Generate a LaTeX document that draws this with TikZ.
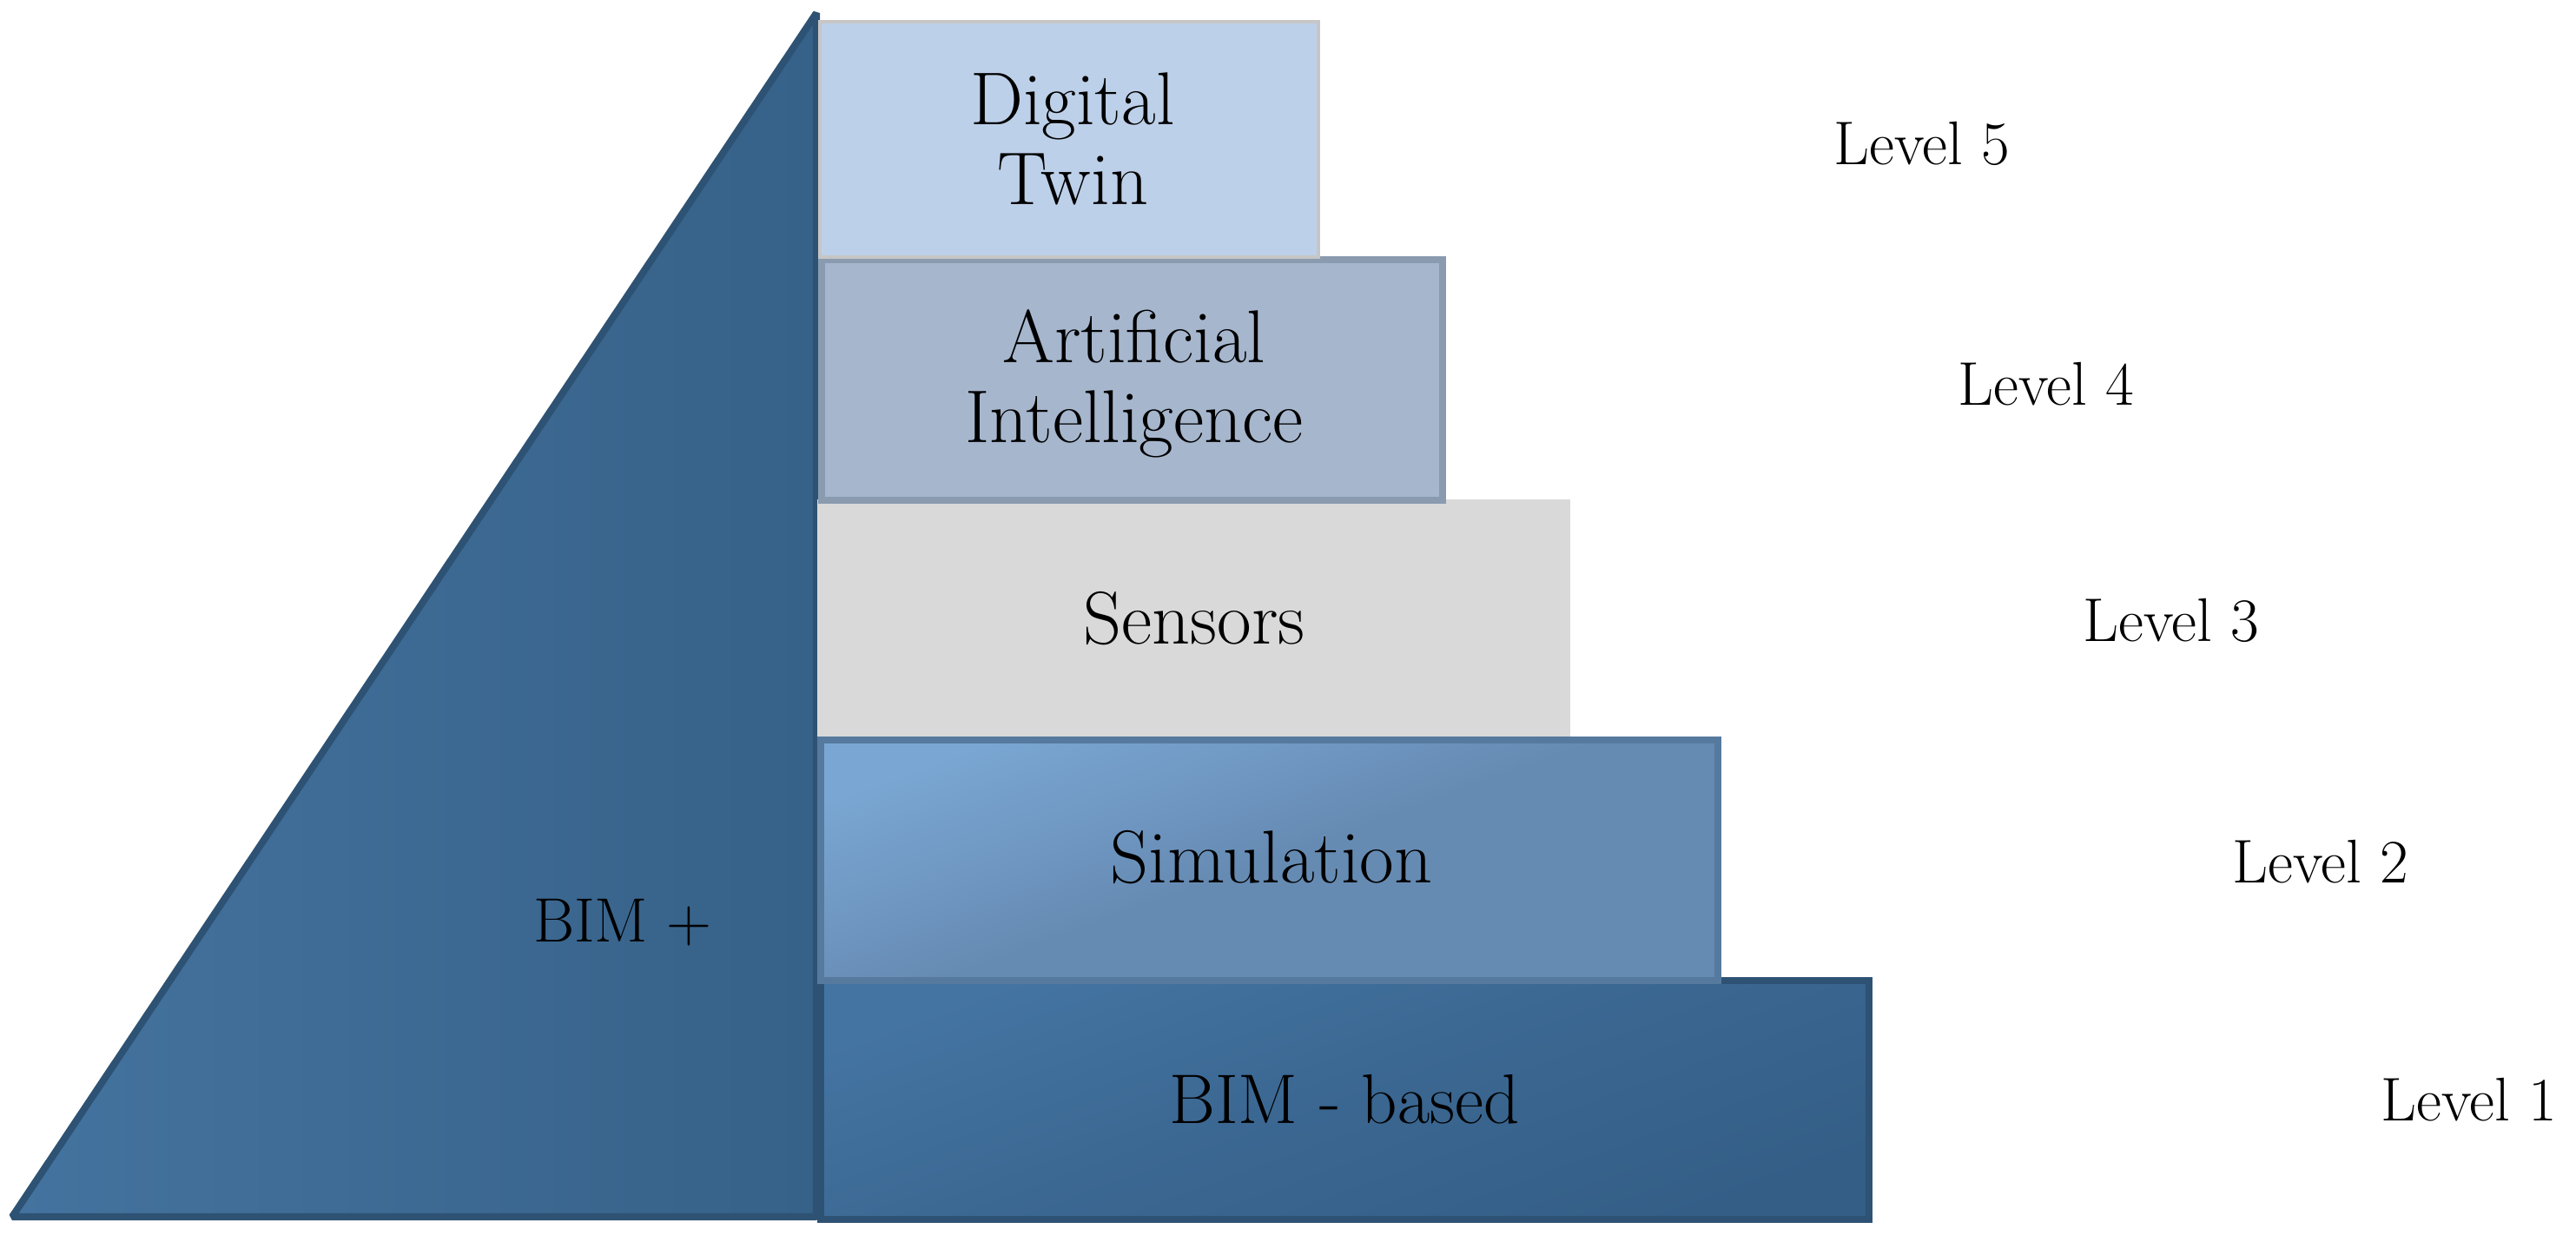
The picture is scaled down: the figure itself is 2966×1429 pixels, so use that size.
\documentclass[tikz,border=0pt]{standalone}
\usetikzlibrary{shadings}
\definecolor{triL}{HTML}{44739F}
\definecolor{triR}{HTML}{366188}
\definecolor{darkedge}{HTML}{2E5273}
\definecolor{bimA}{HTML}{4474A2}
\definecolor{bimB}{HTML}{345E86}
\definecolor{simA}{HTML}{7AA6D3}
\definecolor{simB}{HTML}{668BB3}
\definecolor{simedge}{HTML}{557A9E}
\definecolor{sensfill}{HTML}{D9D9D9}
\definecolor{aifill}{HTML}{A6B6CD}
\definecolor{aiedge}{HTML}{8A9BB0}
\definecolor{dtfill}{HTML}{BDD0E9}
\definecolor{dtedge}{HTML}{C6C6C6}
\tikzset{
  boxtext/.style={inner sep=0pt, font=\fontsize{24.5}{26}\selectfont, align=center},
  leveltext/.style={inner sep=0pt, anchor=base, font=\fontsize{20.2}{23}\selectfont},
}
\begin{document}
\begin{tikzpicture}[x=0.01cm, y=-0.01cm]
\useasboundingbox (0,0) rectangle (2966,1429);
% triangle (BIM +)
\path[left color=triL, right color=triR] (14,1401) -- (940,15) -- (940,1401) -- cycle;
\draw[darkedge, line width=2.3pt, line join=bevel] (14,1401) -- (940,15) -- (940,1401) -- cycle;
% Level 1: BIM - based
\path[top color=bimA, bottom color=bimB, middle color=bimB!60!bimA, shading angle=20]
  (945,1129) rectangle (2152,1404);
\draw[darkedge, line width=2.3pt] (945,1129) rectangle (2152,1404);
% Level 3: Sensors
\fill[sensfill] (941,575) rectangle (1808,853);
% Level 2: Simulation
\path[top color=simA, bottom color=simB, middle color=simB, shading angle=20]
  (945,852) rectangle (1978,1129);
\draw[simedge, line width=2.3pt] (945,852) rectangle (1978,1129);
% Level 4: AI
\draw[aiedge, fill=aifill, line width=2.3pt] (946,299) rectangle (1661,576);
% Level 5: Digital Twin
\draw[dtedge, fill=dtfill, line width=1.1pt] (944,25) rectangle (1518,296);
% texts
\node[boxtext] (dt) at (1235,160) {Digital\\Twin};
\node[boxtext] (ai) at (1306,442) {Artificial\\Intelligence};
\node[boxtext, anchor=base] (sens) at (1375,741) {Sensors};
\node[boxtext, anchor=base] (sim) at (1464,1016) {Simulation};
\node[boxtext, anchor=base, font=\fontsize{23}{26}\selectfont] (bim) at (1548,1293) {BIM - based};
\node[boxtext, anchor=base, font=\fontsize{20.5}{24}\selectfont] (bimplus) at (717,1084) {BIM +};
\node[leveltext] (l5) at (2213,189) {Level 5};
\node[leveltext] (l4) at (2356,466) {Level 4};
\node[leveltext] (l3) at (2500,738) {Level 3};
\node[leveltext] (l2) at (2672,1016) {Level 2};
\node[leveltext] (l1) at (2843,1290) {Level 1};
\end{tikzpicture}
\end{document}
